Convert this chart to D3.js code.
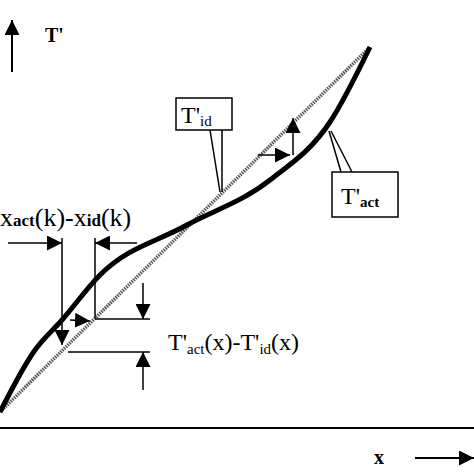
<!DOCTYPE html>
<html><head><meta charset="utf-8">
<script src="https://cdn.jsdelivr.net/npm/d3@7"></script>
<style>body{margin:0;background:#fff}text{font-family:"Liberation Serif",serif;fill:#000}</style>
</head><body>
<script>
// curve points (x, T')
let ActX = [0, 35, 62, 100, 185, 270, 330, 370];
let ActT = [0, 62, 92, 137, 186, 232, 290, 365];
let IdX = [0, 370];
let IdT = [0, 365];

let Svg = d3.select("body").append("svg").attr("width", 474).attr("height", 474);
let x = d3.scaleLinear().domain([0, 370]).range([0, 370]);
let y = d3.scaleLinear().domain([0, 365]).range([412, 47]);

Svg.append("defs").append("marker").attr("id", "ah").attr("viewBox", "0 0 10 10")
    .attr("refX", 10).attr("refY", 5).attr("markerWidth", 15).attr("markerHeight", 15)
    .attr("markerUnits", "userSpaceOnUse").attr("orient", "auto")
    .append("path").attr("d", "M0,0L10,5L0,10Z");

function line(x1, y1, x2, y2, w, arrow) {
    let l = Svg.append("line").attr("x1", x1).attr("y1", y1).attr("x2", x2).attr("y2", y2)
        .attr("stroke", "#000").attr("stroke-width", w || 1.5);
    if (arrow) l.attr("marker-end", "url(#ah)");
}

// axes
line(0, 428, 474, 428, 2);
line(12, 72, 12, 20, 2, true);
line(415, 458, 474, 458, 2, true);
Svg.append("text").attr("x", 45).attr("y", 42).attr("font-size", 20).attr("font-weight", "bold").text("T'");
Svg.append("text").attr("x", 374).attr("y", 464).attr("font-size", 20).attr("font-weight", "bold").text("x");

// ideal line
Svg.append("path").datum(d3.zip(IdX, IdT))
    .attr("d", d3.line().x(d => x(d[0])).y(d => y(d[1])))
    .attr("fill", "none").attr("stroke", "#555").attr("stroke-width", 3.5).attr("stroke-dasharray", "1.5,1");
// actual curve
Svg.append("path").datum(d3.zip(ActX, ActT))
    .attr("d", d3.line().curve(d3.curveMonotoneX).x(d => x(d[0])).y(d => y(d[1])))
    .attr("fill", "none").attr("stroke", "#000").attr("stroke-width", 5);

// x difference annotation
line(62, 238, 62, 322); line(95, 238, 95, 318);
line(8, 243, 62, 243, 1.5, true); line(137, 243, 95, 243, 1.5, true);
let t1 = Svg.append("text").attr("x", 0).attr("y", 226).attr("font-size", 26);
t1.append("tspan").text("x");
t1.append("tspan").attr("font-size", 17).attr("font-weight", "bold").text("act");
t1.append("tspan").text("(k)-x");
t1.append("tspan").attr("font-size", 17).attr("font-weight", "bold").text("id");
t1.append("tspan").text("(k)");

// T difference annotation
line(95, 319, 150, 319); line(68, 352, 150, 352);
line(143, 283, 143, 319, 1.5, true); line(143, 390, 143, 352, 1.5, true);
line(70, 320, 90, 321, 1.5, true); line(62, 322, 62, 345, 1.5, true);
let t2 = Svg.append("text").attr("x", 168).attr("y", 350).attr("font-size", 24);
t2.append("tspan").text("T'");
t2.append("tspan").attr("font-size", 15).attr("dy", 4).text("act");
t2.append("tspan").attr("dy", -4).text("(x)-T'");
t2.append("tspan").attr("font-size", 15).attr("dy", 4).text("id");
t2.append("tspan").attr("dy", -4).text("(x)");

// upper small arrows
line(293, 155, 293, 118, 1.5, true); line(258, 155, 290, 155, 1.5, true);

// labels with boxes
Svg.append("rect").attr("x", 176).attr("y", 98).attr("width", 56).attr("height", 32).attr("fill", "#fff").attr("stroke", "#000").attr("stroke-width", 1.5);
line(210, 130, 220, 192); line(222, 130, 222, 192);
let t3 = Svg.append("text").attr("x", 181).attr("y", 123).attr("font-size", 24);
t3.append("tspan").text("T'");
t3.append("tspan").attr("font-size", 15).attr("dy", 3).text("id");

Svg.append("rect").attr("x", 332).attr("y", 172).attr("width", 66).attr("height", 45).attr("fill", "#fff").attr("stroke", "#000").attr("stroke-width", 1.5);
line(341, 172, 329, 131); line(352, 172, 331, 131);
let t4 = Svg.append("text").attr("x", 341).attr("y", 204).attr("font-size", 24);
t4.append("tspan").text("T'");
t4.append("tspan").attr("font-size", 15).attr("font-weight", "bold").attr("dy", 3).text("act");
</script>
</body></html>
